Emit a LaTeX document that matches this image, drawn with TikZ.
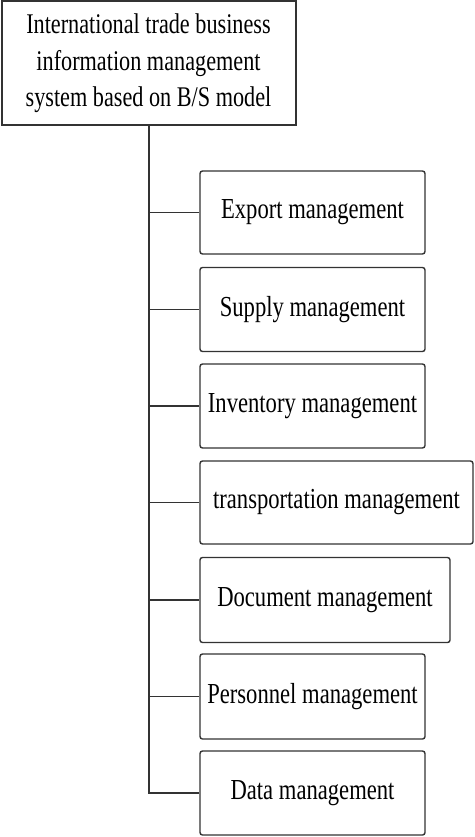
\documentclass[tikz,border=0pt]{standalone}
\usepackage{fontspec}
\setmainfont[FakeStretch=0.78]{Liberation Serif}
\begin{document}
\begin{tikzpicture}[x=1pt,y=-1pt,
  linecol/.style={draw=black!80},
  topbox/.style={linecol,line width=2pt,inner sep=0pt,align=center,
     font=\fontsize{28.5pt}{36.5pt}\selectfont},
  itembox/.style={linecol,line width=1.4pt,rounded corners=2.5pt,inner sep=0pt,
     font=\fontsize{29pt}{32pt}\selectfont},
  conn/.style={linecol,line width=1.5pt}]
\useasboundingbox (0,0) rectangle (474,837);
\node[topbox,minimum width=294pt,minimum height=124pt] (top) at (148.5,63.5)
  {International trade business\\information management\\system based on B/S model};
\node[itembox,minimum width=225pt,minimum height=83pt] (exp) at (312.5,212.5) {Export management};
\node[itembox,minimum width=225pt,minimum height=84pt] (sup) at (312.5,309.5) {Supply management};
\node[itembox,minimum width=225pt,minimum height=84pt] (inv) at (312.5,406) {Inventory management};
\node[itembox,minimum width=273pt,minimum height=83pt] (tra) at (336.5,502.5) {transportation management};
\node[itembox,minimum width=250pt,minimum height=85pt] (doc) at (325,600) {Document management};
\node[itembox,minimum width=225pt,minimum height=85pt] (per) at (312.5,696.5) {Personnel management};
\node[itembox,minimum width=225pt,minimum height=84pt] (dat) at (312.5,793) {Data management};
\coordinate (corner) at (149,793);
\draw[conn] (149,126) -- (corner) -- (dat.west);
\foreach \b in {exp,sup,inv,tra,doc,per}
  \draw[conn] (corner |- \b.west) -- (\b.west);
\end{tikzpicture}
\end{document}
